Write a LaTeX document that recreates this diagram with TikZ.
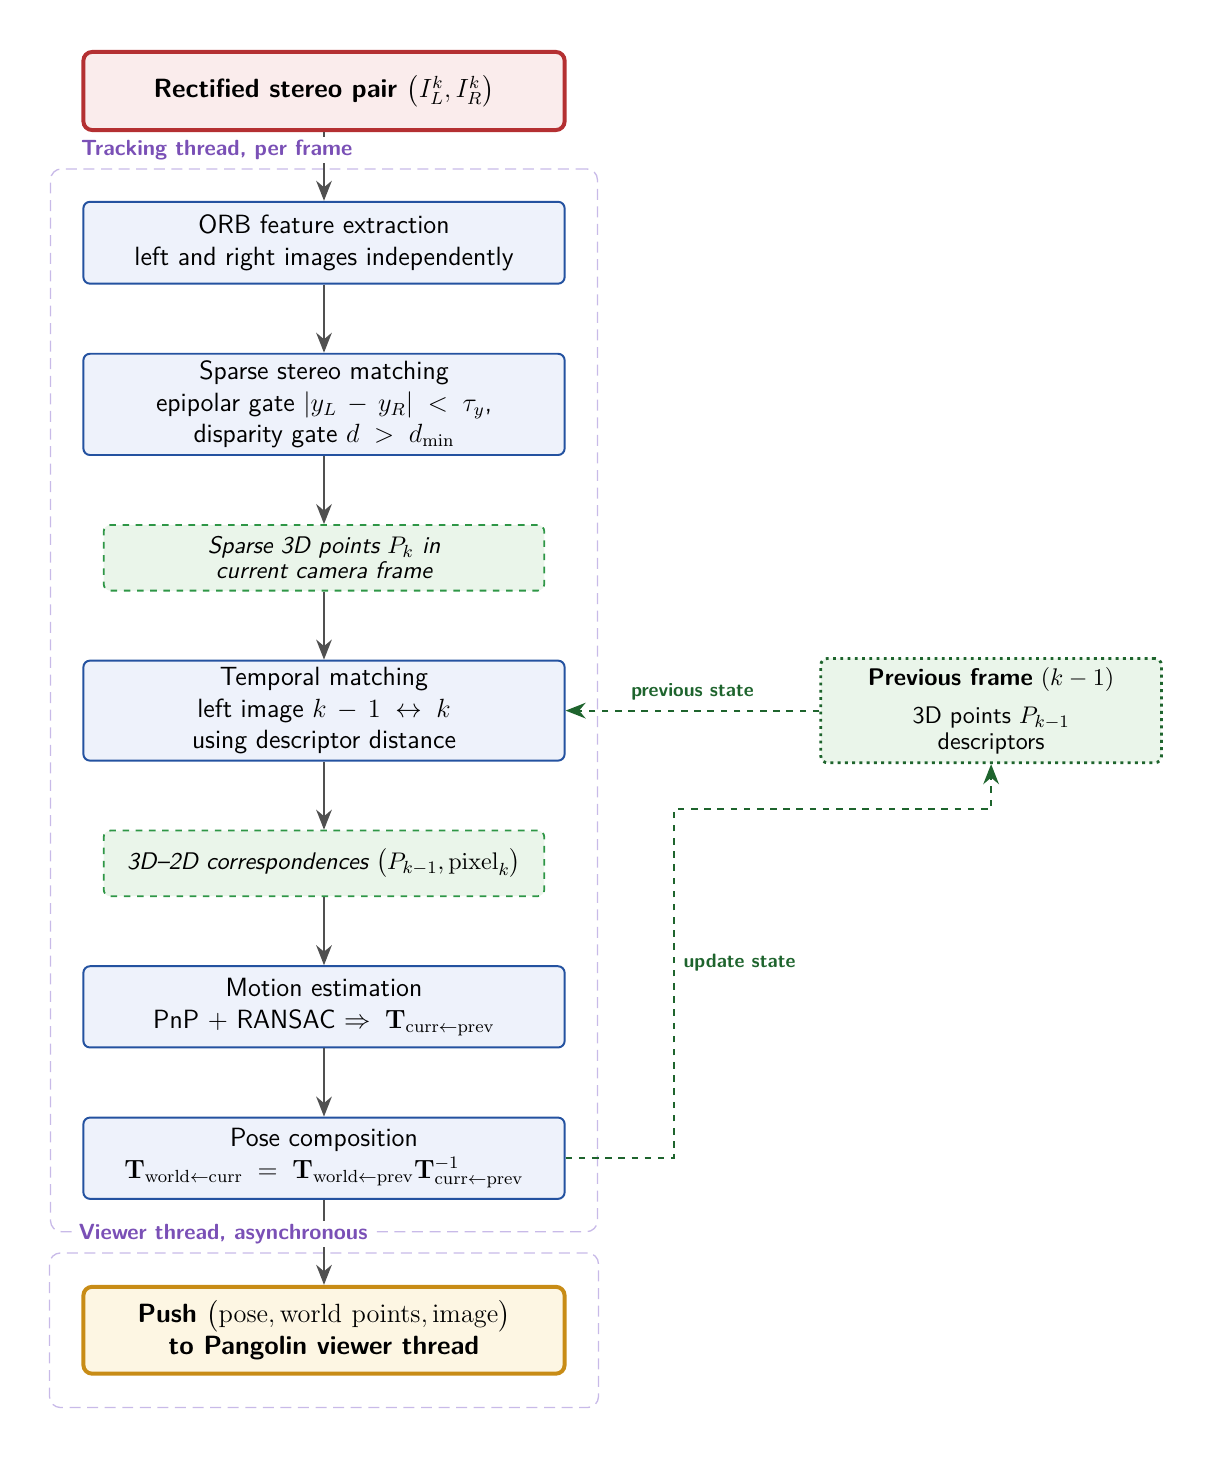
\documentclass[tikz,border=0pt,12pt]{standalone}
\usepackage{amsmath,amssymb,amsfonts}
\usepackage{xcolor}
\usepackage{tikz}
\usetikzlibrary{arrows.meta, positioning, fit, backgrounds}

\definecolor{inred}{RGB}{180,48,50}
\definecolor{infill}{RGB}{250,236,236}
\definecolor{stageblue}{RGB}{36,82,160}
\definecolor{stagefill}{RGB}{238,242,251}
\definecolor{datagreen}{RGB}{46,150,70}
\definecolor{datafill}{RGB}{234,245,234}
\definecolor{fbgreen}{RGB}{30,100,45}
\definecolor{pushgold}{RGB}{200,140,22}
\definecolor{pushfill}{RGB}{253,246,227}
\definecolor{framelav}{RGB}{200,186,232}
\definecolor{threadpurple}{RGB}{122,80,182}
\definecolor{arrgray}{RGB}{80,80,80}

\begin{document}
\begin{tikzpicture}[
  node distance=10.9mm,
  font=\sffamily,
  stage/.style={rectangle, rounded corners=3pt, draw=stageblue, line width=0.9pt,
                fill=stagefill, minimum width=77mm, inner ysep=2.4pt, align=center},
  data/.style={rectangle, rounded corners=3pt, draw=datagreen, dashed,
               line width=0.8pt, fill=datafill, minimum width=70.5mm,
               minimum height=10.5mm, align=center,
               font=\sffamily\small\itshape\linespread{0.85}\selectfont},
  io/.style={rectangle, rounded corners=4pt, line width=1.8pt, minimum width=77mm,
             align=center, font=\sffamily\bfseries},
  prevbox/.style={rectangle, rounded corners=3pt, draw=fbgreen, dotted,
                  line width=1.3pt, fill=datafill, minimum width=54.5mm,
                  minimum height=16.6mm, align=center,
                  font=\sffamily\small\linespread{0.85}\selectfont},
  threadbox/.style={rectangle, rounded corners=5pt, draw=framelav,
                    dash pattern=on 5pt off 3pt, line width=0.6pt, inner sep=5.1mm},
  flbl/.style={font=\sffamily\footnotesize\bfseries, text=threadpurple, fill=white,
               inner sep=1.5pt, anchor=west},
  lbl/.style={font=\sffamily\fontsize{8.8pt}{10pt}\selectfont\bfseries, text=fbgreen},
  arr/.style={-{Stealth[length=3.2mm, width=2.5mm]}, line width=1pt, draw=arrgray},
  fb/.style={-{Stealth[length=3.2mm, width=2.5mm]}, line width=1pt, draw=fbgreen, dashed}
]
\useasboundingbox (0,0) rectangle (19.424,-23.312);

% ---- Input ----
\node[io, draw=inred, fill=infill, minimum height=12.5mm] (frames) at (5.184,-1.456)
  {Rectified stereo pair $\big(I_L^k, I_R^k\big)$};

% ---- Tracking pipeline ----
\node[stage, below=11mm of frames, minimum height=13.1mm] (orb)
  {ORB feature extraction\\ left and right images independently};
\node[stage, below=of orb, minimum height=16.2mm] (stereo)
  {Sparse stereo matching\\ epipolar gate $|y_L \,-\, y_R| \;<\; \tau_y$,\\
   disparity gate $d \;>\; d_{\min}$};
\node[data, below=of stereo] (pts3d)
  {Sparse 3D points $P_k$ in\\ current camera frame};
\node[stage, below=of pts3d, minimum height=16mm] (temporal)
  {Temporal matching\\ left image $k \,-\, 1 \;\leftrightarrow\; k$\\
   using descriptor distance};
\node[data, below=of temporal] (corr)
  {3D--2D correspondences $\big(P_{k-1}, \mathrm{pixel}_k\big)$};
\node[stage, below=of corr, minimum height=13mm] (motion)
  {Motion estimation\\ PnP + RANSAC $\Rightarrow\;\mathbf{T}_{\mathrm{curr}\leftarrow\mathrm{prev}}$};
\node[stage, below=of motion, minimum height=13mm] (pose)
  {Pose composition\\
   $\mathbf{T}_{\mathrm{world}\leftarrow\mathrm{curr}} \;=\;
    \mathbf{T}_{\mathrm{world}\leftarrow\mathrm{prev}}
    \mathbf{T}^{-1}_{\mathrm{curr}\leftarrow\mathrm{prev}}$};

% ---- Viewer ----
\node[io, draw=pushgold, fill=pushfill, below=13.6mm of pose, minimum height=13.9mm] (push)
  {Push $\big(\mathrm{pose}, \mathrm{world\ points}, \mathrm{image}\big)$\\
   to Pangolin viewer thread};

% ---- Previous state ----
\node[prevbox, right=40.6mm of temporal] (prev)
  {\textbf{Previous frame} $(k-1)$\\[6pt]
   3D points $P_{k-1}$\\ descriptors};

% Thread frames
\begin{scope}[on background layer]
  \node[threadbox, fit=(orb)(pose)] (track) {};
  \node[threadbox, fit=(push)] (viewer) {};
\end{scope}

\draw[arr] (frames)   -- (orb);
\draw[arr] (orb)      -- (stereo);
\draw[arr] (stereo)   -- (pts3d);
\draw[arr] (pts3d)    -- (temporal);
\draw[arr] (temporal) -- (corr);
\draw[arr] (corr)     -- (motion);
\draw[arr] (motion)   -- (pose);
\draw[arr] (pose)     -- (push);

% State feedback
\draw[fb] (prev) -- node[lbl, above] {previous state} (temporal);
\draw[fb] (pose.east) -- ++(17.3mm,0)
  |- node[lbl, pos=0.28, right] {update state} ([yshift=-7.2mm]prev.south)
  -- (prev.south);

% Thread labels
\node[flbl] at ([xshift=4.4mm, yshift=2.9mm]track.north west) {Tracking thread, per frame};
\node[flbl] at ([xshift=4.2mm, yshift=2.9mm]viewer.north west) {Viewer thread, asynchronous};

\end{tikzpicture}
\end{document}
